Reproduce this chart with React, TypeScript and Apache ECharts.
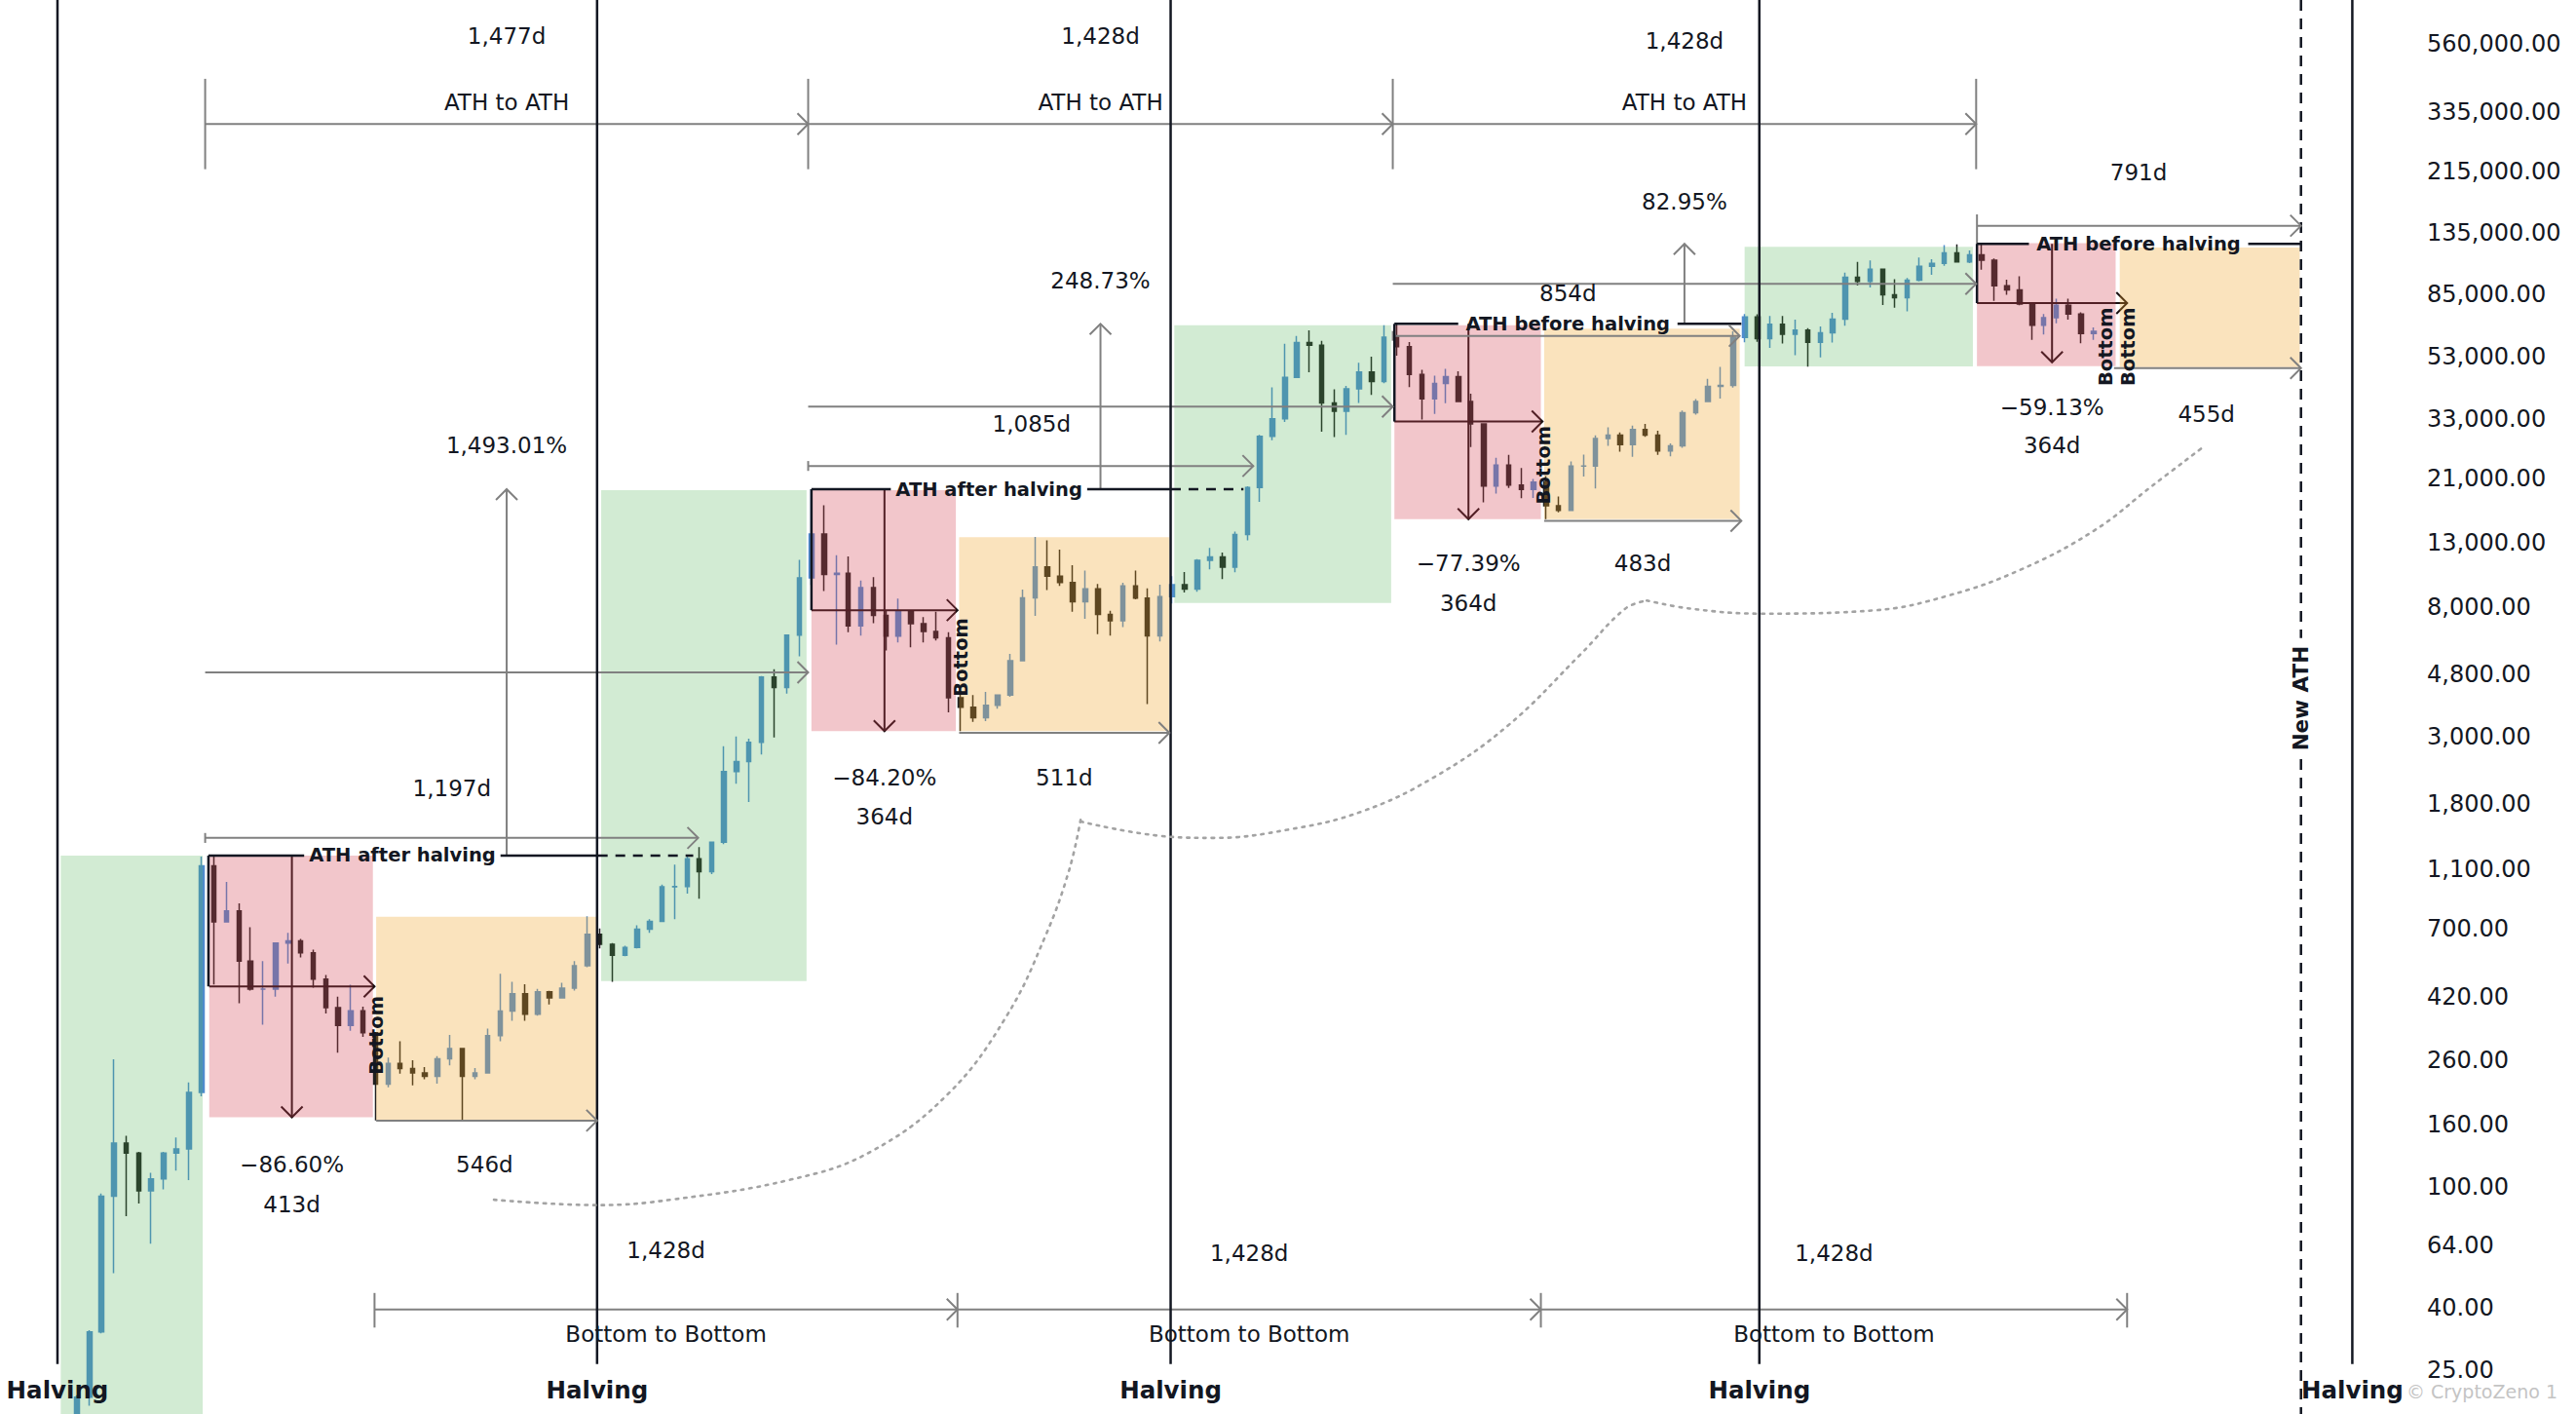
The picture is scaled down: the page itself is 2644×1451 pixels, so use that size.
import React, { useEffect, useRef } from 'react';
import * as echarts from 'echarts';

const DAY = 86400000;
const H0 = Date.UTC(2012, 10, 28); // day 0 = first halving
const T = (d: number) => H0 + d * DAY;
const L = (p: number) => Math.log10(p);

// right price scale labels
const priceTicks = [25, 40, 64, 100, 160, 260, 420, 700, 1100, 1800, 3000, 4800, 8000, 13000, 21000, 33000, 53000, 85000, 135000, 215000, 335000, 560000];

// monthly candles [open, high, low, close], first month Oct 2012
const firstYear = 2012;
const firstMonth = 9;
const ohlc2012 = [[12.4, 12.9, 9.9, 11.2], [11.2, 12.9, 10.6, 12.6], [12.6, 13.8, 12.2, 13.5]];
const ohlc2013 = [[13.5, 20.7, 13.1, 20.4], [20.4, 33.8, 19.1, 33.4], [33.4, 95, 33, 93], [93, 262, 52, 139], [139, 147, 80, 129], [129, 130, 88, 97], [97, 111, 65, 106], [106, 130, 98, 129], [129, 145, 113, 133], [133, 220, 105, 204], [204, 1210, 198, 1130], [1130, 1220, 461, 740]];
const ohlc2014 = [[740, 1000, 740, 803], [803, 850, 400, 550], [550, 710, 440, 445], [445, 550, 340, 445], [445, 630, 420, 630], [630, 680, 540, 640], [640, 650, 565, 585], [585, 600, 450, 480], [480, 495, 370, 387], [387, 420, 275, 338], [338, 460, 325, 378], [378, 390, 310, 320]];
const ohlc2015 = [[320, 320, 165, 217], [217, 265, 212, 254], [254, 300, 235, 244], [244, 260, 215, 236], [236, 247, 225, 230], [230, 268, 218, 263], [263, 315, 250, 284], [284, 285, 165, 230], [230, 245, 225, 236], [236, 330, 236, 313], [313, 500, 300, 377], [377, 470, 350, 430]];
const ohlc2016 = [[430, 462, 350, 368], [368, 446, 364, 436], [436, 439, 396, 416], [416, 467, 414, 448], [448, 550, 440, 531], [531, 772, 525, 673], [673, 704, 605, 624], [624, 630, 470, 575], [575, 617, 570, 609], [609, 720, 605, 700], [700, 755, 680, 742], [742, 980, 740, 964]];
const ohlc2017 = [[964, 1140, 755, 965], [965, 1210, 915, 1190], [1190, 1300, 880, 1080], [1080, 1350, 1060, 1350], [1350, 2790, 1330, 2300], [2300, 3000, 2100, 2480], [2480, 2950, 1830, 2870], [2870, 4740, 2620, 4700], [4700, 4990, 2980, 4340], [4340, 6470, 4150, 6450], [6450, 11400, 5500, 9950], [9950, 19430, 9420, 13850]];
const ohlc2018 = [[13850, 17200, 9000, 10200], [10200, 11800, 6000, 10300], [10300, 11700, 6600, 6920], [6920, 9750, 6430, 9240], [9240, 9990, 7060, 7490], [7490, 7760, 5750, 6400], [6400, 8500, 6100, 7730], [7730, 7750, 5880, 7030], [7030, 7400, 6100, 6630], [6630, 7700, 6200, 6320], [6320, 6600, 3600, 4020], [4020, 4230, 3124, 3740]];
const ohlc2019 = [[3740, 4100, 3350, 3460], [3460, 4200, 3370, 3800], [3800, 4120, 3700, 4100], [4100, 5600, 4050, 5320], [5320, 9100, 5300, 8550], [8550, 13540, 7460, 10800], [10800, 13200, 9070, 10080], [10080, 12300, 9350, 9600], [9600, 10950, 7700, 8300], [8300, 10500, 7300, 9150], [9150, 9500, 6500, 7550], [7550, 7750, 6430, 7190]];
const ohlc2020 = [[7190, 9580, 6850, 9350], [9350, 10500, 8450, 8540], [8540, 9190, 3830, 6420], [6420, 9450, 6150, 8630], [8630, 10080, 8200, 9450], [9450, 10400, 8900, 9140], [9140, 11450, 8950, 11350], [11350, 12470, 10600, 11650], [11650, 12050, 9850, 10780], [10780, 14100, 10370, 13800], [13800, 19850, 13200, 19700], [19700, 29300, 17650, 28990]];
const ohlc2021 = [[28990, 41950, 28130, 33100], [33100, 58350, 32300, 45200], [45200, 61790, 45000, 58800], [58800, 64500, 47050, 57700], [57700, 59600, 30000, 37300], [37300, 41300, 28800, 35000], [35000, 42400, 29300, 41500], [41500, 50500, 37300, 47100], [47100, 52900, 39600, 43800], [43800, 67000, 43300, 61300], [61300, 67770, 53250, 57000], [57000, 59100, 42000, 46200]];
const ohlc2022 = [[46200, 47900, 32900, 38500], [38500, 45800, 34300, 43200], [43200, 48200, 37200, 45500], [45500, 47400, 37700, 37700], [37700, 40000, 26700, 31800], [31800, 31900, 17600, 19900], [19900, 24650, 18800, 23300], [23300, 25200, 19600, 20050], [20050, 22800, 18150, 19400], [19400, 20990, 18200, 20500], [20500, 21450, 15490, 17150], [17150, 18400, 16300, 16550]];
const ohlc2023 = [[16550, 23950, 16500, 23130], [23130, 25250, 21400, 23150], [23150, 29200, 19550, 28470], [28470, 31000, 26950, 29250], [29250, 29850, 25800, 27200], [27200, 31400, 24800, 30480], [30480, 31800, 28860, 29230], [29230, 30200, 25170, 25940], [25940, 27480, 24900, 26960], [26960, 35200, 26550, 34650], [34650, 38400, 34100, 37720], [37720, 44700, 37600, 42280]];
const ohlc2024 = [[42280, 48970, 38550, 42580], [42580, 64000, 41880, 61130], [61130, 73000, 59000, 71330], [71330, 72800, 59200, 60640], [60640, 71950, 56550, 67500], [67500, 71950, 58400, 62700], [62700, 70000, 53500, 64600], [64600, 65600, 49050, 58970], [58970, 66500, 52550, 63300], [63300, 73600, 58900, 70200], [70200, 99800, 66850, 96400], [96400, 108300, 90500, 93400]];
const ohlc2025 = [[93400, 109400, 89200, 102400], [102400, 102500, 78200, 84350], [84350, 95000, 76600, 82550], [82550, 95800, 74500, 94200], [94200, 111900, 93400, 104600], [104600, 110500, 98200, 107100], [107100, 122800, 105100, 115750], [115750, 123500, 108000, 108250], [108250, 117900, 107300, 114050], [114050, 124000, 102000, 109600], [109600, 111000, 80600, 90400], [90400, 94600, 84400, 87500]];
const ohlc2026 = [[87500, 97000, 78000, 78700], [78700, 79500, 60000, 67000], [67000, 73000, 62500, 71000], [71000, 82000, 68000, 78000], [78000, 82000, 70000, 73000], [73000, 74000, 58500, 63000], [63000, 66000, 60000, 64000]];

// cycle markers (days after the 2012 halving, prices in USD)
const halvingDays = [0, 1319, 2721, 4160, 5609.5];
const newAthDay = 5484;
const athDays = [361, 1835, 3264, 4690];
const athPrices = [1220, 19430, 67770, 124000];
const athGapLabels = ['1,477d', '1,428d', '1,428d'];
const athGapLabelPrice = [595700, 595700, 574000];
const gainLabels = ['1,493.01%', '248.73%', '82.95%'];
const gainLabelPrice = [27070, 93700, 170400];
const bottomDays = [775, 2200, 3626, 5059];
const bottomGapLabels = ['1,428d', '1,428d', '1,428d'];
const bottomGapLabelPrice = [61.8, 60.3, 60.3];

// bull (green), bear (red), accumulation (orange) phases
const bullStart = [8, 1329, 2730, 4124];
const bullEnd = [355, 1831, 3260, 4682];
const bullLow = [10, 473, 8230, 49100];
const bullHigh = [1220, 19300, 67000, 121200];

const bearStart = [371, 1843, 3268, 4692];
const bearEnd = [771, 2196, 3626, 5031];
const bearLow = [169, 3124, 15490, 49200];
const bearHigh = [1220, 19300, 67000, 124600];
const bearArrowEnd = [775, 2200, 3630, 5059];
const bearTarget = [169, 3124, 15490, 50700];
const drawdownLabels = ['\u221286.60%', '\u221284.20%', '\u221277.39%', '\u221259.13%'];
const drawdownLabelPrice = [117.9, 2206, 11080, 36030];
const bearDayLabels = ['413d', '364d', '364d', '364d'];
const bearDayLabelPrice = [87.5, 1638, 8226, 27110];

const accStart = [779, 2204, 3634, 5041];
const accEnd = [1319, 2718, 4112, 5481];
const accLow = [166, 3124, 15490, 48900];
const accHigh = [768, 13510, 65400, 120600];
const accArrowStart = [779, 2204, 3634, 5027];
const accArrowEnd = [1319, 2718, 4116, 5484];
const accArrowPrice = [164.8, 3085, 15300, 48500];
const accDayLabels = ['546d', '511d', '483d', '455d'];
const accLabelDay = [1044, 2461, 3875, 5253];
const accLabelPrice = [117.9, 2206, 11080, 34290];

const bottomTextDays = [781, 2208, 3634, 5007, 5063];
const bottomTextPrice = [314, 5461, 23330, 57030, 57030];

// days needed to reclaim the previous ATH
const reclaimStart = [361, 1835, 3264, 4692];
const reclaimEnd = [1566, 2923, 4112, 5484];
const reclaimPrice = [1394, 23160, 61900, 142200];
const reclaimLabels = ['1,197d', '1,085d', '854d', '791d'];
const reclaimLabelDay = [964, 2381, 3692, 5087];
const reclaimLabelPrice = [2023, 31830, 85270, 213200];

const athLineLabels = ['ATH after halving', 'ATH after halving', 'ATH before halving', 'ATH before halving'];
const athLineStart = [369, 1843, 3268, 4692];
const athLineEnd = [1321, 2722, 4116, 5484];
const athDashEnd = [1554, 2899, 0, 0];
const athLabelDay = [843, 2277, 3692, 5087];

// dotted arcs between cycles [day, price]
const arc1 = [[1067, 90.6], [1321, 87.0], [1504, 90.8], [1791, 105.4], [1984, 129.4], [2176, 201], [2320, 363], [2416, 670], [2473, 1094], [2501, 1598]];
const arc2 = [[2501, 1578], [2720, 1406], [2827, 1394], [3007, 1483], [3187, 1700], [3365, 2206], [3545, 3254], [3724, 5598], [3832, 7876], [3885, 8380]];
const arc3 = [[3885, 8380], [3993, 7876], [4163, 7589], [4441, 7779], [4620, 8684], [4798, 10570], [4978, 14200], [5122, 20010], [5247, 26850]];

const BOX_FILL: any = { green: 'rgba(76,175,80,0.25)', red: 'rgba(212,65,82,0.30)', orange: 'rgba(238,162,35,0.30)' };
const SEG_STYLE: any = {
  gray: { stroke: '#808080', lineWidth: 2 },
  black: { stroke: '#131722', lineWidth: 2.5 },
  dash: { stroke: '#131722', lineWidth: 2.5, lineDash: [10, 8] },
  dark: { stroke: '#1a1012', lineWidth: 2 },
  newath: { stroke: '#131722', lineWidth: 2.5, lineDash: [11, 8] },
};
const FONT: any = {
  lab: { size: 23, weight: 'normal' },
  bold: { size: 19.5, weight: 'bold' },
  vbold: { size: 19.5, weight: 'bold', rot: Math.PI / 2 },
  halving: { size: 24.5, weight: 'bold' },
  newath: { size: 21.5, weight: 'bold', rot: Math.PI / 2, bg: '#ffffff', pad: [2, 8] },
};

function buildCandles() {
  const years = [ohlc2012, ohlc2013, ohlc2014, ohlc2015, ohlc2016, ohlc2017, ohlc2018, ohlc2019, ohlc2020, ohlc2021, ohlc2022, ohlc2023, ohlc2024, ohlc2025, ohlc2026];
  let y = firstYear;
  let m = firstMonth;
  const out: number[][] = [];
  for (const arr of years) {
    for (const [o, h, l, c] of arr) {
      out.push([Date.UTC(y, m, 15), L(o), L(c), L(l), L(h)]);
      m++;
      if (m > 11) { m = 0; y++; }
    }
  }
  return out;
}

type Seg = [number, number, number, number, string];

function buildAnnotations() {
  const boxes: [number, number, number, number, string][] = [];
  const under: Seg[] = [];
  const segs: Seg[] = [];
  const headsUnder: [number, number, string, string][] = [];
  const heads: [number, number, string, string][] = [];
  const labels: { d: number; p: number; text: string; kind: string }[] = [];

  for (let i = 0; i < 4; i++) {
    boxes.push([bullStart[i], bullLow[i], bullEnd[i], bullHigh[i], 'green']);
    boxes.push([bearStart[i], bearLow[i], bearEnd[i], bearHigh[i], 'red']);
    boxes.push([accStart[i], accLow[i], accEnd[i], accHigh[i], 'orange']);
  }

  // ATH to ATH
  athDays.forEach((d) => segs.push([d, 431500, d, 218000, 'gray']));
  for (let i = 0; i < 3; i++) {
    segs.push([athDays[i], 306600, athDays[i + 1], 306600, 'gray']);
    heads.push([athDays[i + 1], 306600, 'right', 'gray']);
    const mid = (athDays[i] + athDays[i + 1]) / 2;
    labels.push({ d: mid, p: 362400, text: 'ATH to ATH', kind: 'lab' });
    labels.push({ d: mid, p: athGapLabelPrice[i], text: athGapLabels[i], kind: 'lab' });
    // price range between ATHs
    const midP = Math.sqrt(athPrices[i] * athPrices[i + 1]);
    segs.push([athDays[i], midP, athDays[i + 1], midP, 'gray']);
    heads.push([athDays[i + 1], midP, 'right', 'gray']);
    segs.push([mid, athPrices[i], mid, athPrices[i + 1], 'gray']);
    heads.push([mid, athPrices[i + 1], 'up', 'gray']);
    labels.push({ d: mid, p: gainLabelPrice[i], text: gainLabels[i], kind: 'lab' });
  }

  // Bottom to Bottom
  bottomDays.forEach((d) => segs.push([d, 44.8, d, 34.5, 'gray']));
  for (let i = 0; i < 3; i++) {
    segs.push([bottomDays[i], 39.55, bottomDays[i + 1], 39.55, 'gray']);
    heads.push([bottomDays[i + 1], 39.55, 'right', 'gray']);
    const mid = (bottomDays[i] + bottomDays[i + 1]) / 2;
    labels.push({ d: mid, p: 32.8, text: 'Bottom to Bottom', kind: 'lab' });
    labels.push({ d: mid, p: bottomGapLabelPrice[i], text: bottomGapLabels[i], kind: 'lab' });
  }

  // reclaim previous ATH
  for (let i = 0; i < 4; i++) {
    segs.push([reclaimStart[i], reclaimPrice[i], reclaimEnd[i], reclaimPrice[i], 'gray']);
    heads.push([reclaimEnd[i], reclaimPrice[i], 'right', 'gray']);
    const tick = i === 3 ? [154900, 123300] : [reclaimPrice[i] * 1.038, reclaimPrice[i] / 1.038];
    segs.push([reclaimStart[i], tick[0], reclaimStart[i], tick[1], 'gray']);
    labels.push({ d: reclaimLabelDay[i], p: reclaimLabelPrice[i], text: reclaimLabels[i], kind: 'lab' });
  }

  // bear phase crosshairs + labels
  for (let i = 0; i < 4; i++) {
    const midP = Math.sqrt(athPrices[i] * bearTarget[i]);
    const midD = (bearStart[i] + bearArrowEnd[i]) / 2;
    under.push([bearStart[i], midP, bearArrowEnd[i], midP, 'dark']);
    headsUnder.push([bearArrowEnd[i], midP, 'right', 'dark']);
    under.push([midD, athPrices[i], midD, bearTarget[i], 'dark']);
    headsUnder.push([midD, bearTarget[i], 'down', 'dark']);
    segs.push([athLineStart[i], athPrices[i], athLineStart[i], midP, 'black']);
    labels.push({ d: midD, p: drawdownLabelPrice[i], text: drawdownLabels[i], kind: 'lab' });
    labels.push({ d: midD, p: bearDayLabelPrice[i], text: bearDayLabels[i], kind: 'lab' });
  }

  // accumulation arrows
  for (let i = 0; i < 4; i++) {
    segs.push([accArrowStart[i], accArrowPrice[i], accArrowEnd[i], accArrowPrice[i], 'gray']);
    heads.push([accArrowEnd[i], accArrowPrice[i], 'right', 'gray']);
    labels.push({ d: accLabelDay[i], p: accLabelPrice[i], text: accDayLabels[i], kind: 'lab' });
  }

  // ATH lines with text
  for (let i = 0; i < 4; i++) {
    const gap = i < 2 ? 240 : 268;
    segs.push([athLineStart[i], athPrices[i], athLabelDay[i] - gap, athPrices[i], 'black']);
    segs.push([athLabelDay[i] + gap, athPrices[i], athLineEnd[i], athPrices[i], 'black']);
    if (athDashEnd[i] > 0) segs.push([athLineEnd[i], athPrices[i], athDashEnd[i], athPrices[i], 'dash']);
    labels.push({ d: athLabelDay[i], p: athPrices[i], text: athLineLabels[i], kind: 'bold' });
  }

  bottomTextDays.forEach((d, i) => labels.push({ d, p: bottomTextPrice[i], text: 'Bottom', kind: 'vbold' }));

  // halvings
  halvingDays.forEach((d) => {
    segs.push([d, 900000, d, 26.2, 'black']);
    labels.push({ d, p: 21.5, text: 'Halving', kind: 'halving' });
  });
  segs.push([newAthDay, 900000, newAthDay, 12, 'newath']);
  labels.push({ d: newAthDay, p: 4003, text: 'New ATH', kind: 'newath' });

  return { boxes, under, segs, headsUnder, heads, labels };
}

function segSeries(list: Seg[], z: number) {
  return {
    type: 'custom', z, silent: true,
    data: list.map((s) => [T(s[0]), L(s[1]), T(s[2]), L(s[3])]),
    encode: { x: [0, 2], y: [1, 3] },
    renderItem: (params: any, api: any) => {
      const s = list[params.dataIndex];
      const a = api.coord([api.value(0), api.value(1)]);
      const b = api.coord([api.value(2), api.value(3)]);
      return { type: 'line', shape: { x1: a[0], y1: a[1], x2: b[0], y2: b[1] }, style: { ...SEG_STYLE[s[4]] } };
    },
  };
}

function headSeries(list: [number, number, string, string][], z: number) {
  return {
    type: 'custom', z, silent: true,
    data: list.map((h) => [T(h[0]), L(h[1])]),
    renderItem: (params: any, api: any) => {
      const h = list[params.dataIndex];
      const [x, y] = api.coord([api.value(0), api.value(1)]);
      const s = 11;
      let pts;
      if (h[2] === 'right') pts = [[x - s, y - s], [x, y], [x - s, y + s]];
      else if (h[2] === 'up') pts = [[x - s, y + s], [x, y], [x + s, y + s]];
      else pts = [[x - s, y - s], [x, y], [x + s, y - s]];
      const st = SEG_STYLE[h[3]];
      return { type: 'polyline', shape: { points: pts }, style: { stroke: st.stroke, lineWidth: st.lineWidth, fill: 'none' } };
    },
  };
}

function arcSeries(pts: number[][]) {
  return {
    type: 'line', z: 5, silent: true, smooth: 0.4, showSymbol: false, symbol: 'none',
    data: pts.map(([d, p]) => [T(d), L(p)]),
    lineStyle: { color: '#a3a3a3', width: 2.6, type: [2.5, 6], cap: 'round' },
  };
}

function buildOption() {
  const candles = buildCandles();
  const a = buildAnnotations();
  return {
    animation: false,
    backgroundColor: '#ffffff',
    grid: { left: 0, right: 229, top: 0, bottom: 0, containLabel: false, outerBoundsMode: 'none' },
    xAxis: { type: 'time', min: T(-140.5), max: T(5610.9), show: false },
    yAxis: {
      type: 'value', position: 'right', min: 1.2542, max: 5.8936,
      axisLine: { show: false }, axisTick: { show: false }, splitLine: { show: false },
      axisLabel: {
        customValues: priceTicks.map(L),
        margin: 76, color: '#131722', fontSize: 24, fontFamily: 'DejaVu Sans', align: 'left',
        formatter: (v: number) => Math.round(Math.pow(10, v)).toLocaleString('en-US', { minimumFractionDigits: 2, maximumFractionDigits: 2 }),
      },
    },
    graphic: [
      { type: 'text', left: 2470, top: 1418, z: 10, style: { text: '\u00a9 CryptoZeno 1', fill: '#c4c4c4', fontSize: 19, fontFamily: 'DejaVu Sans' } },
    ],
    series: [
      {
        type: 'candlestick', z: 2, silent: true, barWidth: 5,
        data: candles,
        itemStyle: { color: '#4f8ccf', color0: '#202020', borderColor: '#4f8ccf', borderColor0: '#202020', borderWidth: 1.5 },
      },
      segSeries(a.under, 3),
      headSeries(a.headsUnder, 3),
      {
        type: 'custom', z: 4, silent: true,
        data: a.boxes.map((b) => [T(b[0]), L(b[1]), T(b[2]), L(b[3])]),
        encode: { x: [0, 2], y: [1, 3] },
        renderItem: (params: any, api: any) => {
          const b = a.boxes[params.dataIndex];
          const p1 = api.coord([api.value(0), api.value(1)]);
          const p2 = api.coord([api.value(2), api.value(3)]);
          return {
            type: 'rect',
            shape: { x: Math.min(p1[0], p2[0]), y: Math.min(p1[1], p2[1]), width: Math.abs(p2[0] - p1[0]), height: Math.abs(p2[1] - p1[1]) },
            style: { fill: BOX_FILL[b[4]] },
          };
        },
      },
      arcSeries(arc1),
      arcSeries(arc2),
      arcSeries(arc3),
      segSeries(a.segs, 5),
      headSeries(a.heads, 5),
      {
        type: 'custom', z: 6, silent: true,
        data: a.labels.map((t) => [T(t.d), L(t.p)]),
        renderItem: (params: any, api: any) => {
          const t = a.labels[params.dataIndex];
          const f = FONT[t.kind];
          const pt = api.coord([api.value(0), api.value(1)]);
          const style: any = {
            text: t.text, fill: '#131722', fontSize: f.size, fontWeight: f.weight, fontFamily: 'DejaVu Sans',
            align: 'center', verticalAlign: 'middle',
          };
          if (f.bg) { style.backgroundColor = f.bg; style.padding = f.pad; }
          return { type: 'text', x: pt[0], y: pt[1], rotation: f.rot || 0, style };
        },
      },
    ],
  };
}

export default function App() {
  const ref = useRef<HTMLDivElement>(null);
  useEffect(() => {
    if (!ref.current) return;
    const chart = echarts.init(ref.current, null, { renderer: 'svg' });
    chart.setOption(buildOption() as any);
    return () => chart.dispose();
  }, []);
  return <div ref={ref} style={{ position: 'absolute', left: 0, top: 0, width: 2644, height: 1451, background: '#fff' }} />;
}
